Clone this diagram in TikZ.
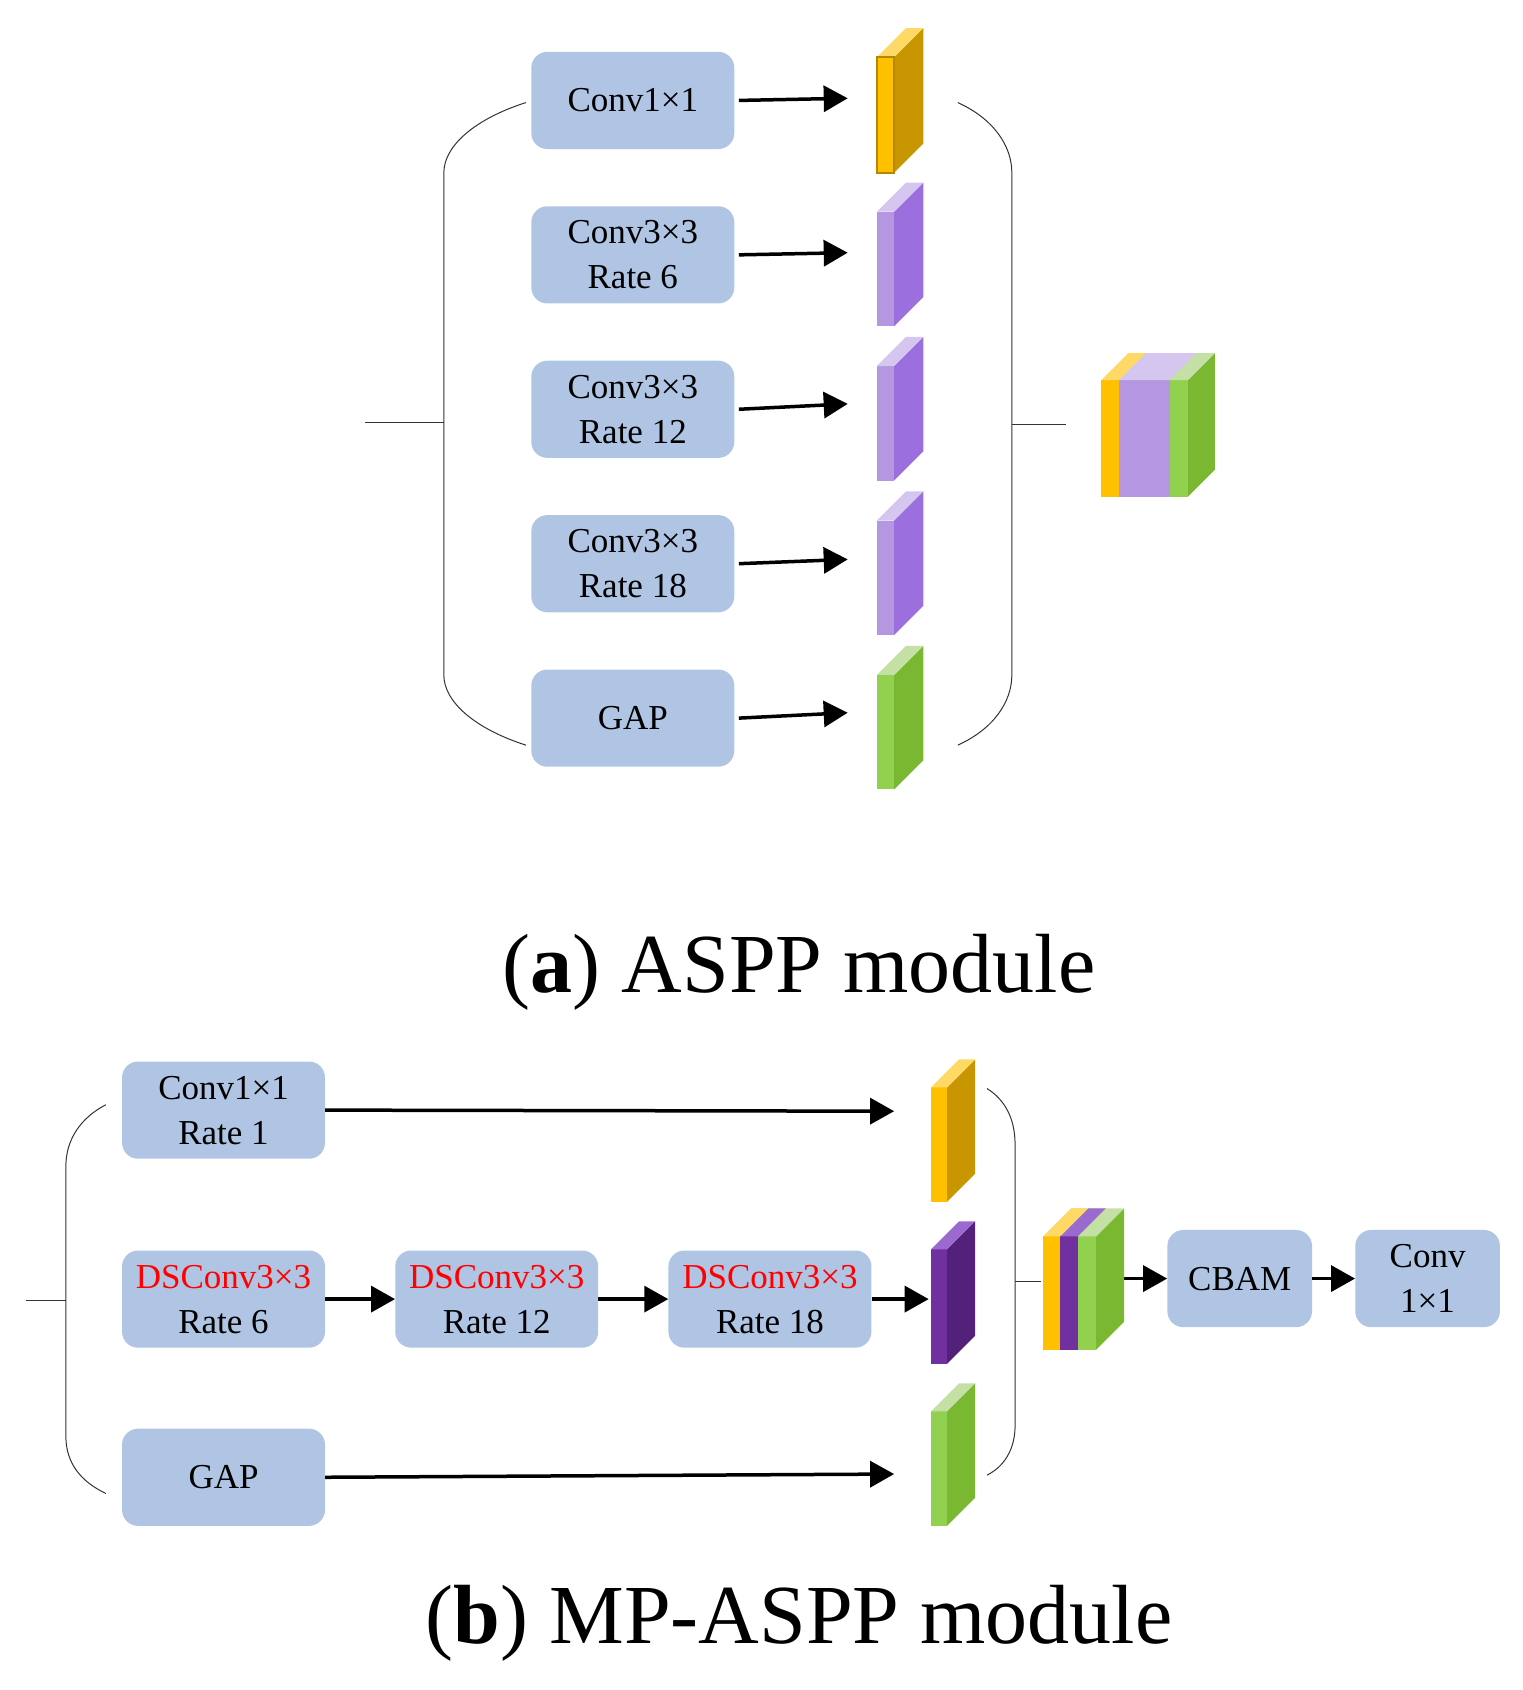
\documentclass[tikz,border=0pt]{standalone}
\usepackage{fontspec}
\setmainfont{Liberation Serif}
\usetikzlibrary{arrows.meta}
\definecolor{boxc}{RGB}{176,197,227}
\definecolor{orF}{RGB}{255,192,0}\definecolor{orS}{RGB}{200,150,0}\definecolor{orT}{RGB}{255,217,102}
\definecolor{puF}{RGB}{180,150,225}\definecolor{puS}{RGB}{155,111,222}\definecolor{puT}{RGB}{213,198,240}
\definecolor{grF}{RGB}{146,208,80}\definecolor{grS}{RGB}{122,184,50}\definecolor{grT}{RGB}{197,224,165}
\definecolor{dpF}{RGB}{112,48,160}\definecolor{dpS}{RGB}{83,32,122}\definecolor{dpT}{RGB}{155,106,208}
\newcommand\myslab[8]{% x, w, ytop, ybot, d, front, side, top
  \fill[#6] (#1,#3) rectangle ({#1+#2},#4);
  \fill[#7] ({#1+#2},#3) -- ({#1+#2+#5},{#3-#5}) -- ({#1+#2+#5},{#4-#5}) -- ({#1+#2},#4) -- cycle;
  \fill[#8] (#1,#3) -- ({#1+#5},{#3-#5}) -- ({#1+#2+#5},{#3-#5}) -- ({#1+#2},#3) -- cycle;}
\begin{document}
\begin{tikzpicture}[x=1.08pt,y=-1.08pt,
  box/.style={fill=boxc,rounded corners=16pt,minimum width=203pt,minimum height=97.2pt,align=center,inner sep=0pt,font=\fontsize{35}{45}\selectfont},
  sbox/.style={box,minimum width=144.7pt},
  arr/.style={line width=3.5pt,-{Triangle[length=24pt,width=26pt]}},
  brk/.style={line width=1pt,black!80},
  red/.style={text=red}]
\useasboundingbox (0,0) rectangle (1410,1565);
% (a)
\node[box] (a1) at (586,93) {Conv1×1};
\node[box] (a2) at (586,236) {Conv3×3\\Rate 6};
\node[box] (a3) at (586,379) {Conv3×3\\Rate 12};
\node[box] (a4) at (586,522) {Conv3×3\\Rate 18};
\node[box] (a5) at (586,665) {GAP};
\coordinate (e1) at (785,91);\coordinate (e2) at (785,234);\coordinate (e3) at (785,374);
\coordinate (e4) at (785,518);\coordinate (e5) at (785,660);
\foreach \i in {1,...,5}{\draw[arr] (a\i.east)++(4,0) -- (e\i);}
\myslab{812}{16}{53}{160}{27}{orF}{orS}{orT}
\draw[orS!90!black,line width=1.5pt] (812,53) rectangle (828,160);
\myslab{812}{16}{196}{302}{27}{puF}{puS}{puT}
\myslab{812}{16}{339}{445}{27}{puF}{puS}{puT}
\myslab{812}{16}{482}{588}{27}{puF}{puS}{puT}
\myslab{812}{16}{625}{731}{27}{grF}{grS}{grT}
\draw[brk] (487,95) .. controls (440,110) and (411,135) .. (411,160) -- (411,625) .. controls (411,650) and (440,675) .. (487,690);
\draw[brk] (338,391) -- (411,391);
\draw[brk] (887,95) .. controls (920,110) and (937,135) .. (937,160) -- (937,625) .. controls (937,650) and (920,675) .. (887,690);
\draw[brk] (937,393) -- (987,393);
\myslab{1020}{80}{352}{460}{25}{puF}{grS}{puT}
\fill[orF] (1020,352) rectangle (1036,460);
\fill[orT] (1020,352) -- (1045,327) -- (1061,327) -- (1036,352) -- cycle;
\fill[grF] (1083,352) rectangle (1100,460);
\fill[grT] (1083,352) -- (1108,327) -- (1125,327) -- (1100,352) -- cycle;
\node[font=\fontsize{84}{90}\selectfont] (ta) at (740,900) {(\textbf{a}) ASPP module};
% (b)
\node[box] (b1) at (207,1028) {Conv1×1\\Rate 1};
\node[box] (b2) at (207,1203) {\textcolor{red}{DSConv3×3}\\Rate 6};
\node[box] (b3) at (460,1203) {\textcolor{red}{DSConv3×3}\\Rate 12};
\node[box] (b4) at (713,1203) {\textcolor{red}{DSConv3×3}\\Rate 18};
\node[box] (b5) at (207,1368) {GAP};
\node[sbox] (cb) at (1148,1184) {CBAM};
\node[sbox] (cv) at (1322,1184) {Conv\\1×1};
\coordinate (f1) at (828,1029);\coordinate (f2) at (860,1203);\coordinate (f5) at (828,1365);
\coordinate (cc) at (1040,1184);
\draw[arr] (b1.east) -- (f1);
\draw[arr] (b5.east) -- (f5);
\draw[arr] (b2) -- (b3);
\draw[arr] (b3) -- (b4);
\draw[arr] (b4.east) -- (f2);
\draw[arr] (cc) -- (cb);
\draw[arr] (cb) -- (cv);
\myslab{862}{15}{1007}{1113}{26}{orF}{orS}{orT}
\myslab{862}{15}{1157}{1263}{26}{dpF}{dpS}{dpT}
\myslab{862}{15}{1307}{1413}{26}{grF}{grS}{grT}
\draw[brk] (98,1023) .. controls (75,1035) and (61,1055) .. (61,1080) -- (61,1330) .. controls (61,1355) and (75,1372) .. (98,1383);
\draw[brk] (24,1204) -- (61,1204);
\draw[brk] (914,1008) .. controls (930,1018) and (940,1035) .. (940,1060) -- (940,1320) .. controls (940,1342) and (930,1358) .. (914,1366);
\draw[brk] (940,1187) -- (964,1187);
\myslab{966}{49}{1145}{1250}{26}{grF}{grS}{grT}
\fill[orF] (966,1145) rectangle (982,1250);
\fill[orT] (966,1145) -- (992,1119) -- (1008,1119) -- (982,1145) -- cycle;
\fill[dpF] (982,1145) rectangle (998,1250);
\fill[dpT] (982,1145) -- (1008,1119) -- (1024,1119) -- (998,1145) -- cycle;
\node[font=\fontsize{84}{90}\selectfont] (tb) at (740,1503) {(\textbf{b}) MP-ASPP module};
\end{tikzpicture}
\end{document}
